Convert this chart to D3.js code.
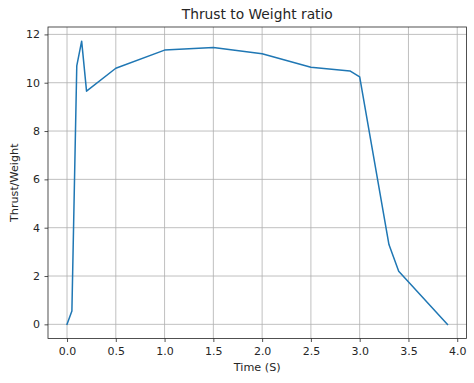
<!DOCTYPE html>
<html><head><meta charset="utf-8">
<script src="https://cdn.jsdelivr.net/npm/d3@7"></script>
<style>body{margin:0;background:#fff;} text{font-family:"DejaVu Sans",sans-serif;fill:#262626;}</style>
</head><body>
<svg id="c" width="474" height="383"></svg>
<script>
const times = [0, 0.05, 0.1, 0.15, 0.2, 0.5, 1.0, 1.5, 2.0, 2.5, 2.9, 3.0, 3.3, 3.4, 3.9];
const ratio = [0, 0.55, 10.7, 11.72, 9.65, 10.6, 11.35, 11.46, 11.2, 10.64, 10.49, 10.24, 3.3, 2.2, 0];
const xTicks = [0, 0.5, 1.0, 1.5, 2.0, 2.5, 3.0, 3.5, 4.0];
const yTicks = [0, 2, 4, 6, 8, 10, 12];

const L = 48, R = 466.5, T = 27, B = 338.5;
const svg = d3.select("#c");
const xmax = d3.max(times), ymax = d3.max(ratio);
const x = d3.scaleLinear().domain([-0.05*xmax, 1.05*xmax]).range([L, R]);
const y = d3.scaleLinear().domain([-0.05*ymax, 1.05*ymax]).range([B, T]);

// grid
const g = svg.append("g");
g.selectAll(".gx").data(xTicks).enter().append("line")
  .attr("x1", d=>x(d)).attr("x2", d=>x(d)).attr("y1", T).attr("y2", B)
  .attr("stroke", "#b0b0b0").attr("stroke-width", 0.8);
g.selectAll(".gy").data(yTicks).enter().append("line")
  .attr("y1", d=>y(d)).attr("y2", d=>y(d)).attr("x1", L).attr("x2", R)
  .attr("stroke", "#b0b0b0").attr("stroke-width", 0.8);

// line
svg.append("path").datum(times.map((t,i)=>[t, ratio[i]]))
  .attr("fill","none").attr("stroke","#1f77b4").attr("stroke-width",1.5)
  .attr("stroke-linejoin","round").attr("stroke-linecap","square")
  .attr("d", d3.line().x(d=>x(d[0])).y(d=>y(d[1])));

// axes
const xa = svg.append("g").attr("transform",`translate(0,${B})`)
  .call(d3.axisBottom(x).tickValues(xTicks).tickFormat(d3.format(".1f")).tickSize(3.5).tickPadding(5));
const ya = svg.append("g").attr("transform",`translate(${L},0)`)
  .call(d3.axisLeft(y).tickValues(yTicks).tickFormat(d3.format("d")).tickSize(3.5).tickPadding(4.5));
[xa, ya].forEach(a=>{
  a.select(".domain").remove();
  a.selectAll(".tick line").attr("stroke","#262626").attr("stroke-width",0.8);
  a.selectAll(".tick text").style("font-family","DejaVu Sans").style("font-size","11px").attr("fill","#262626");
});
svg.append("rect").attr("x",L).attr("y",T).attr("width",R-L).attr("height",B-T)
  .attr("fill","none").attr("stroke","#262626").attr("stroke-width",0.8);

svg.append("text").attr("x",(L+R)/2).attr("y",18.5).attr("text-anchor","middle")
  .style("font-size","13.8px").text("Thrust to Weight ratio");
svg.append("text").attr("x",(L+R)/2).attr("y",371).attr("text-anchor","middle")
  .style("font-size","11.2px").text("Time (S)");
svg.append("text").attr("transform",`translate(17.5,${(T+B)/2}) rotate(-90)`).attr("text-anchor","middle")
  .style("font-size","11.2px").text("Thrust/Weight");
</script>
</body></html>
